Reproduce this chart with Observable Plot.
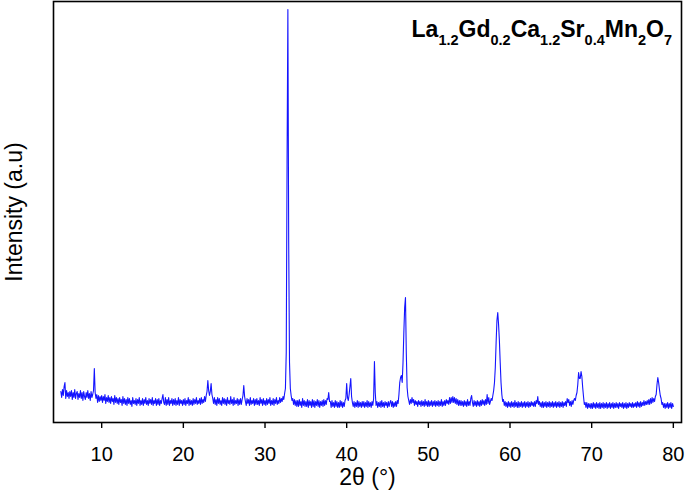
<!DOCTYPE html>
<html>
<head>
<meta charset="utf-8">
<script src="https://cdn.jsdelivr.net/npm/d3@7"></script>
<script src="https://cdn.jsdelivr.net/npm/@observablehq/plot@0.6"></script>
<style>
  html, body { margin: 0; padding: 0; background: #fff; }
  #chart svg { display: block; }
</style>
</head>
<body>
<div id="chart"></div>
<script>
// XRD scan: 2θ from 5° to 80°, step 0.1°
const scanStart = 5.0;
const scanStep = 0.1;
// intensity (a.u.), one line per degree
const intensity = [
  31,25,33,27,36,40,24,32,26,30,   // 5
  24,31,26,32,23,30,25,33,24,29,   // 6
  31,23,29,25,32,24,30,22,31,26,   // 7
  23,30,25,32,24,29,22,31,25,28,   // 8
  32,54,30,24,28,20,27,21,26,22,   // 9
  27,20,26,22,28,19,25,21,27,20,   // 10
  25,19,26,21,24,18,27,20,25,19,   // 11
  24,18,25,20,23,17,26,19,24,18,   // 12
  23,17,25,19,24,18,22,16,25,19,   // 13
  22,18,24,17,23,19,25,17,22,18,   // 14
  24,17,23,19,25,18,22,17,24,19,   // 15
  23,18,25,17,22,19,24,17,23,18,   // 16
  24,17,22,19,24,28,20,18,25,17,   // 17
  23,18,25,17,22,19,24,17,23,18,   // 18
  24,17,22,18,25,17,23,19,22,17,   // 19
  23,18,24,17,22,19,25,17,23,18,   // 20
  22,17,24,18,23,19,25,18,22,19,   // 21
  24,18,25,19,23,20,26,21,27,31,   // 22
  42,32,27,31,39,28,24,19,25,18,   // 23
  23,17,25,19,24,18,22,17,25,19,   // 24
  24,18,23,17,25,19,22,18,26,19,   // 25
  23,17,25,18,22,19,24,17,23,18,   // 26
  24,18,23,27,37,26,21,17,24,19,   // 27
  23,17,25,18,22,19,24,17,23,18,   // 28
  24,18,22,17,25,19,23,17,24,18,   // 29
  22,17,24,18,23,19,25,17,22,18,   // 30
  24,17,23,19,25,18,22,19,25,20,   // 31
  24,21,26,23,29,34,70,260,413,180, // 32
  60,34,27,22,24,18,23,17,22,16,   // 33
  22,16,23,17,21,15,24,17,22,16,   // 34
  21,16,23,15,22,17,21,15,23,16,   // 35
  22,15,21,17,23,16,22,15,21,17,   // 36
  22,16,23,17,22,18,24,23,30,21,   // 37
  21,15,22,16,20,15,22,16,21,15,   // 38
  20,15,22,16,21,15,20,16,22,24,   // 39
  39,25,22,28,36,44,26,20,16,21,   // 40
  15,20,16,22,15,21,16,20,15,21,   // 41
  16,21,15,20,16,22,15,21,16,20,   // 42
  15,21,17,24,61,30,17,21,15,20,   // 43
  16,21,15,22,16,20,15,21,17,20,   // 44
  15,21,16,20,22,16,21,15,20,16,   // 45
  21,16,22,19,28,40,45,47,40,60,   // 46
  90,115,125,70,35,26,22,18,23,19, // 47
  25,20,23,17,22,18,21,16,22,18,   // 48
  21,16,22,17,21,16,23,17,21,16,   // 49
  22,16,21,17,22,16,21,17,22,16,   // 50
  21,17,22,16,21,17,23,16,21,17,   // 51
  22,17,23,19,22,18,25,19,25,20,   // 52
  26,20,25,19,24,18,23,17,22,17,   // 53
  22,17,21,16,22,17,21,16,23,17,   // 54
  21,17,24,27,20,16,22,17,21,16,   // 55
  22,17,21,16,22,17,23,18,22,17,   // 56
  23,18,28,19,25,18,21,24,22,27,   // 57
  32,40,55,80,102,110,98,82,60,40, // 58
  28,21,23,17,21,16,20,15,21,16,   // 59
  20,15,21,16,20,15,22,16,20,15,   // 60
  21,15,20,16,21,15,20,16,21,15,   // 61
  20,16,21,15,20,16,21,17,20,16,   // 62
  21,16,22,19,26,18,21,16,20,15,   // 63
  21,15,20,16,21,15,20,16,21,15,   // 64
  20,16,21,15,20,16,21,15,20,16,   // 65
  21,15,20,16,21,15,20,17,21,16,   // 66
  24,20,23,17,21,16,22,18,22,24,   // 67
  22,27,30,38,50,44,44,51,46,35,   // 68
  26,18,20,15,20,14,19,15,19,14,   // 69
  19,14,20,15,19,14,20,15,19,14,   // 70
  20,14,19,15,20,14,19,15,20,14,   // 71
  19,15,20,14,19,15,20,14,19,15,   // 72
  20,15,19,14,20,16,19,15,20,14,   // 73
  19,15,20,14,19,15,20,16,19,15,   // 74
  20,15,19,16,20,15,21,16,20,15,   // 75
  21,16,20,17,22,17,21,18,22,18,   // 76
  23,18,24,19,25,20,24,21,26,28,   // 77
  38,45,40,33,27,24,18,20,15,19,   // 78
  14,19,15,20,14,19,15,20,14,19,   // 79
  16                               // 80
];
const xTicks = [10, 20, 30, 40, 50, 60, 70, 80];
const xDomain = [4.1, 81];
const yDomain = [0, 421];
const xLabel = "2θ (°)";
const yLabel = "Intensity (a.u)";
// formula: [element, subscript]
const formula = [["La", "1.2"], ["Gd", "0.2"], ["Ca", "1.2"], ["Sr", "0.4"], ["Mn", "2"], ["O", "7"]];

const scan = intensity.map((v, i) => ({twoTheta: +(scanStart + i * scanStep).toFixed(1), intensity: v}));

const W = 685, H = 492;
const plot = Plot.plot({
  width: W,
  height: H,
  marginLeft: 53,
  marginRight: 4,
  marginTop: 1,
  marginBottom: 70,
  style: {fontFamily: "'Liberation Sans', Arial, sans-serif", fontSize: "20px", color: "#000", background: "#fff"},
  x: {domain: xDomain},
  y: {domain: yDomain, axis: null},
  marks: [
    Plot.line(scan, {x: "twoTheta", y: "intensity", stroke: "#1414ff", strokeWidth: 1.1}),
    Plot.frame({stroke: "#000", strokeWidth: 1.6}),
    Plot.axisX({ticks: xTicks, tickSize: 6, tickPadding: 18, tickFormat: d => String(d), label: null, fontSize: 20, strokeWidth: 1.4}),
    Plot.text([xLabel], {frameAnchor: "bottom", dy: 55, text: d => d, fontSize: 23, lineAnchor: "middle"}),
    Plot.text([yLabel], {frameAnchor: "left", dx: -39, text: d => d, fontSize: 23, rotate: -90, textAnchor: "middle", lineAnchor: "middle"})
  ]
});
document.getElementById("chart").appendChild(plot);

// chemical formula title with subscripts, top right inside the frame
const svg = d3.select(plot);
const t = svg.append("text")
  .attr("x", 672)
  .attr("y", 37)
  .attr("text-anchor", "end")
  .attr("font-family", "'Liberation Sans', Arial, sans-serif")
  .attr("font-weight", "bold")
  .attr("font-size", 23)
  .attr("fill", "#000");
formula.forEach(([el, sub], i) => {
  t.append("tspan").attr("font-size", 23).attr("dy", i === 0 ? 0 : -8).text(el);
  t.append("tspan").attr("font-size", 14.5).attr("dy", 8).text(sub);
});
</script>
</body>
</html>
